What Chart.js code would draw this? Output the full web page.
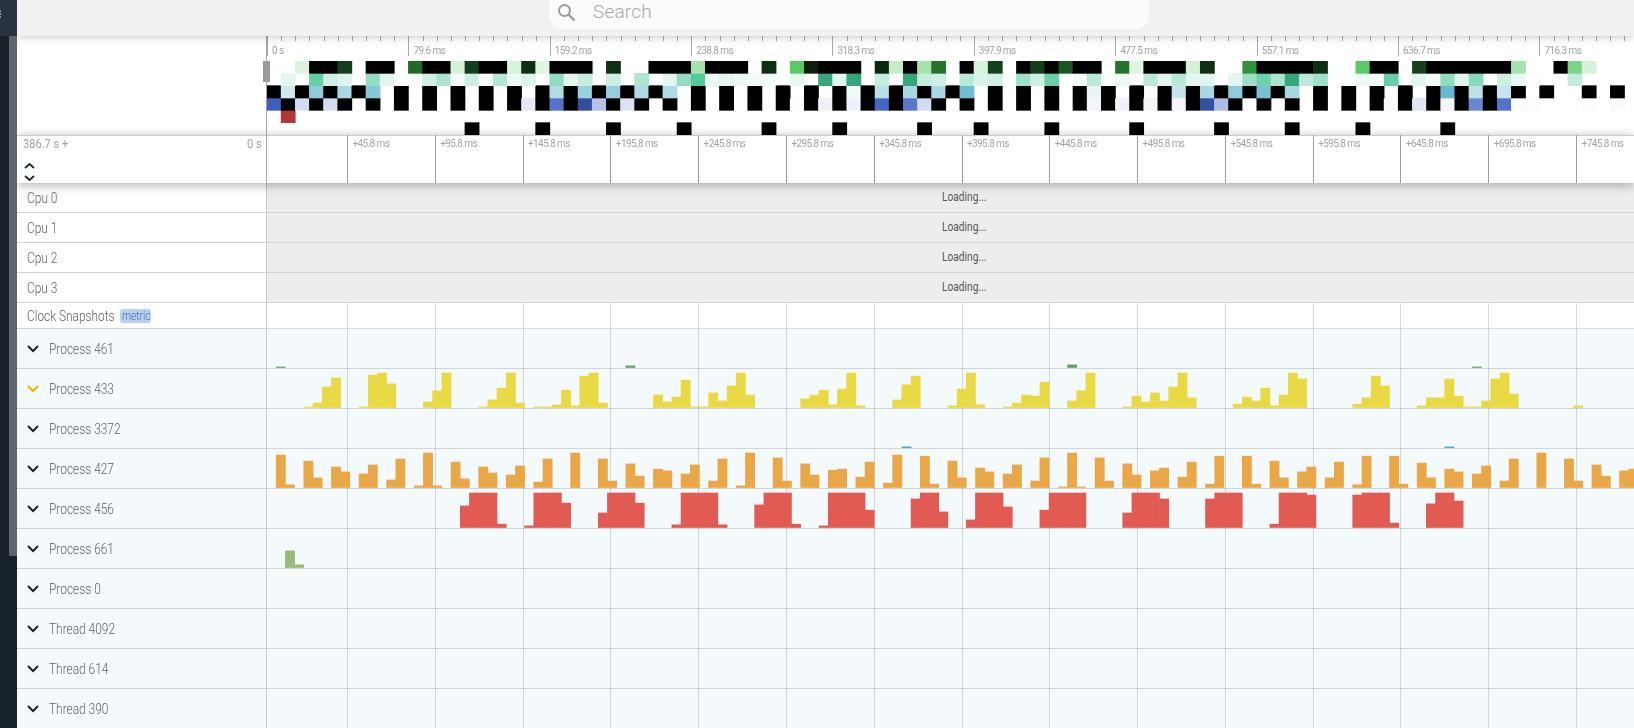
<!DOCTYPE html>
<html>
<head>
<meta charset="utf-8">
<title>Trace viewer</title>
<script src="https://cdn.jsdelivr.net/npm/chart.js@4"></script>
<style>
  html, body { margin: 0; padding: 0; width: 1634px; height: 728px; overflow: hidden; background: #fff; font-family: Roboto, sans-serif; }
  div, canvas, svg { position: absolute; }
  canvas { display: block; }
  #rows { left: 0; top: 0; width: 1634px; height: 728px; }
  .sidebar { left: 0; top: 0; width: 17px; height: 728px; background: #18222c; z-index: 20; }
  .sidebarTop { left: 0; top: 0; width: 17px; height: 36px; background: #28333f; }
  .dots { left: 0; top: 10px; width: 1px; height: 2px; background: #8b95a0; box-shadow: 0 3px 0 #8b95a0, 0 6px 0 #8b95a0; }
  .scrollThumb { left: 9px; top: 36px; width: 8px; height: 520px; background: #5f646b; }
  .topbar { left: 17px; top: 0; right: 0; height: 36px; background: #f1f1f1; box-shadow: 0 2px 8px rgba(0,0,0,.18); z-index: 15; }
  .searchBox { left: 532px; top: -10px; width: 600px; height: 39px; background: #fbfbfb; border-radius: 14px; }
  .searchText { left: 44px; top: 11px; font-size: 19px; font-weight: 300; color: #a9a9a9; line-height: 22px; letter-spacing: .2px; }
  .narrow { white-space: nowrap; transform: scaleX(.85); transform-origin: left center; }
  .notesPanel { left: 17px; top: 135px; right: 0; height: 48px; background: #fff; border-top: 1px solid #ccc; box-sizing: border-box; box-shadow: 0 2px 10px rgba(0,0,0,.32); z-index: 8; }
  .notesText { font-size: 13px; font-weight: 400; color: #a3a3a3; top: 1px; line-height: 14px; }
  .row { left: 17px; right: 0; }
  .rowLabel { left: 0; top: 0; width: 250px; height: 100%; box-sizing: border-box; border-bottom: 1px solid #cfd3d5; }
  .rowRight { left: 250px; top: 0; right: 0; height: 100%; box-sizing: border-box; }
  .name { font-size: 14px; font-weight: 300; color: #5c6268; line-height: 16px; }
  .loading { left: 675px; top: 7px; font-size: 12px; color: #555; line-height: 14px; }
  .chip { left: 103px; top: 6px; width: 31px; height: 14px; background: #b8d0f7; border-radius: 3px; font-size: 12px; font-weight: 300; color: #4f6f9f; line-height: 14px; text-align: left; }
  .chip span { position: absolute; left: 2px; top: 0; white-space: nowrap; transform: scaleX(.85); transform-origin: left center; }
</style>
</head>
<body>
<div class="sidebar">
  <div class="sidebarTop"><div class="dots"></div></div>
  <div class="scrollThumb"></div>
</div>
<div class="topbar">
  <div class="searchBox">
    <svg style="left:8px;top:13px" width="19" height="19" viewBox="0 0 19 19"><circle cx="7.5" cy="7.5" r="5.5" fill="none" stroke="#9c9c9c" stroke-width="2"/><line x1="11.5" y1="11.5" x2="17.5" y2="17.5" stroke="#9c9c9c" stroke-width="2.4"/></svg>
    <div class="searchText">Search</div>
  </div>
</div>

<canvas id="overview" style="left:267px;top:36px" width="1367" height="99"></canvas>
<div style="left:263px;top:61px;width:7px;height:21px;background:#999;z-index:5"></div>

<div class="notesPanel">
  <div class="notesText narrow" style="left:6px">386.7 s +</div>
  <div class="notesText narrow" style="left:230px">0 s</div>
  <svg style="left:7px;top:26px" width="11" height="20" viewBox="0 0 11 20"><polyline points="1,6 5.5,2 10,6" fill="none" stroke="#20262c" stroke-width="1.8"/><polyline points="1,14 5.5,18 10,14" fill="none" stroke="#20262c" stroke-width="1.8"/></svg>
</div>
<canvas id="ruler" style="left:267px;top:135px;z-index:9" width="1367" height="48"></canvas>

<div id="rows"></div>
<canvas id="tracks" style="left:267px;top:303px;z-index:3" width="1367" height="425"></canvas>
<div style="left:266px;top:36px;width:1px;height:147px;background:#a4a4a4;z-index:10"></div>
<div style="left:266px;top:183px;width:1px;height:545px;background:#c6cacc;z-index:4"></div>

<script>
// overview ruler
const overviewTickValues = [0, 79.6, 159.2, 238.8, 318.3, 397.9, 477.5, 557.1, 636.7, 716.3];
const overviewTickLabels = ['0 s', '79.6 ms', '159.2 ms', '238.8 ms', '318.3 ms', '397.9 ms', '477.5 ms', '557.1 ms', '636.7 ms', '716.3 ms'];
const overviewCellMs = 7.96;
const overviewSpanMs = 769.5;

// overview load per cell, 0 is empty and 100 is full
const overviewRow0 = [
  0,0,9,100,100,84,0,100,100,0,
  73,100,100,11,84,100,100,10,88,8,
  100,100,100,0,88,0,0,100,100,100,
  23,100,100,100,0,88,0,43,92,100,
  100,100,0,90,15,100,23,70,0,100,
  10,83,0,100,84,100,78,100,100,0,
  70,8,100,100,100,11,88,0,0,62,
  100,100,100,100,88,0,0,43,100,100,
  0,83,100,100,100,100,100,100,23,0,
  0,100,34,11,0,0,0];
const overviewRow1 = [
  0,7,0,40,12,9,0,28,8,1,
  0,12,22,3,13,2,20,5,9,0,
  28,7,15,0,13,0,21,0,7,28,
  44,5,7,5,3,4,0,6,0,57,
  8,57,0,15,0,57,15,12,0,18,
  10,12,0,25,13,39,0,3,18,1,
  4,0,18,8,19,7,8,0,7,26,
  38,22,57,17,25,0,1,4,3,40,
  0,7,3,29,8,31,0,13,6,1,
  0,0,16,0,0,0,0];
const overviewRow2 = [
  100,13,100,29,100,22,100,31,0,100,
  0,100,0,100,0,100,0,100,0,100,
  20,100,26,100,27,100,21,100,21,0,
  100,0,100,0,100,0,100,0,100,0,
  100,3,100,18,100,22,100,22,100,37,
  0,100,0,100,0,100,0,100,6,100,
  0,100,0,100,15,100,22,100,29,100,
  35,100,22,0,100,0,100,0,100,0,
  100,0,100,39,100,17,100,15,100,0,
  100,0,0,100,0,100,0];
const overviewRow3 = [
  51,100,11,100,11,100,0,100,0,100,
  0,100,0,100,0,100,0,100,7,100,
  44,100,59,19,100,9,100,0,100,0,
  100,0,100,0,100,0,100,1,100,4,
  100,4,100,48,100,43,11,100,0,100,
  0,100,0,100,0,100,0,100,3,100,
  4,100,3,100,3,100,58,21,100,1,
  100,0,100,0,100,0,100,0,100,1,
  100,8,100,3,100,38,100,44,1,1,
  0,0,0,1,0,2,0];
const overviewRow4 = [
  0,54,0,0,0,0,0,0,0,0];
const overviewRow5 = [
  0,0,0,0,0,0,0,0,0,0,
  0,0,0,0,100,0,0,0,0,100,
  0,0,0,0,100,0,0,0,0,100,
  0,0,0,0,0,100,0,0,0,0,
  100,0,0,0,0,0,100,0,0,0,
  100,0,0,0,0,100,0,0,0,0,
  0,100,0,0,0,0,0,100,0,0,
  0,0,100,0,0,0,0,100,0,0,
  0,0,0,100,0,0,0,0,0,0,
  0,0,0,0,0,0,0];
const overviewHues = [127, 158, 193, 224, 0, 0];

// timeline
const cpuNames = ['Cpu 0', 'Cpu 1', 'Cpu 2', 'Cpu 3'];
const trackNames = ['Process 461', 'Process 433', 'Process 3372', 'Process 427', 'Process 456', 'Process 661', 'Process 0', 'Thread 4092', 'Thread 614', 'Thread 390'];
const timeTickValues = [45.8, 95.8, 145.8, 195.8, 245.8, 295.8, 345.8, 395.8, 445.8, 495.8, 545.8, 595.8, 645.8, 695.8, 745.8];
const timeSpanMs = 778.5;
const bucketMs = 5.24;

// cpu usage per bucket, in percent of the track height
const process433 = [
  0,0,0,0,3,14,60,86,0,0,
  3,94,100,69,0,0,0,17,49,100,
  0,0,0,3,23,57,100,14,0,3,
  3,9,51,6,91,100,14,0,0,0,
  0,0,37,17,31,80,3,3,43,20,
  63,100,37,0,0,0,0,0,26,37,
  51,9,54,100,6,0,0,0,23,66,
  91,0,0,0,6,54,100,9,0,0,
  3,14,37,34,74,0,0,20,49,100,
  0,0,0,3,34,17,43,20,60,100,
  29,0,0,0,0,11,31,20,57,6,
  37,100,83,0,0,0,0,0,11,29,
  91,63,0,0,0,6,29,29,83,34,
  3,3,20,83,100,40,0,0,0,0,
  0,0,6,0,0,0,0,0,0];
const process427 = [
  0,94,9,0,77,29,0,60,46,0,
  40,66,0,23,83,0,6,100,6,0,
  74,26,0,60,43,0,37,63,0,17,
  83,0,0,100,0,0,83,20,0,69,
  34,0,54,49,0,40,66,0,20,83,
  0,6,100,0,0,86,20,0,69,37,
  0,51,54,0,31,74,0,14,94,0,
  0,91,11,0,77,29,0,57,46,0,
  40,66,0,20,86,0,3,100,3,0,
  86,20,0,69,37,0,49,57,0,31,
  74,0,11,91,0,0,91,11,0,77,
  29,0,46,60,0,29,74,0,9,91,
  0,0,91,11,0,71,29,0,54,46,
  0,40,63,0,20,83,0,0,100,0,
  0,83,20,0,66,34,0,49,54];
const process456 = [
  0,0,0,0,0,0,0,0,0,0,
  0,0,0,0,0,0,0,0,0,0,
  0,63,100,100,100,11,0,0,6,100,
  100,100,71,0,0,0,43,100,100,100,
  71,0,0,0,9,100,100,100,100,9,
  0,0,0,66,100,100,100,11,0,0,
  6,100,100,100,100,51,0,0,0,0,
  83,100,100,46,0,0,23,100,100,100,
  60,0,0,0,51,100,100,100,100,0,
  0,0,0,43,100,100,100,83,0,0,
  0,0,83,100,100,100,0,0,0,11,
  100,100,100,94,0,0,0,0,94,100,
  100,100,14,0,0,0,69,100,100,77];
// the quiet tracks only have a few busy buckets
const process461Buckets = [1, 39, 87, 131];
const process461Values = [3, 6, 9, 3];
const process3372Buckets = [69, 128];
const process3372Values = [3, 3];
const process661Buckets = [2, 3];
const process661Values = [49, 9];

// html rows next to the canvases
const rowsEl = document.getElementById('rows');
const chevron = (color) => '<svg style="left:10px;top:15px" width="12" height="10" viewBox="0 0 12 10"><polyline points="1,2 6,7 11,2" fill="none" stroke="' + color + '" stroke-width="2"/></svg>';
let rowTop = 183;
cpuNames.forEach((name) => {
  rowsEl.insertAdjacentHTML('beforeend',
    '<div class="row" style="top:' + rowTop + 'px;height:30px">' +
    '<div class="rowRight" style="background:#ededed;border-bottom:1px solid #d4d4d4"><div class="loading narrow">Loading...</div></div>' +
    '<div class="rowLabel" style="background:#fff"><div class="name narrow" style="left:10px;top:7px">' + name + '</div></div></div>');
  rowTop += 30;
});
rowsEl.insertAdjacentHTML('beforeend',
  '<div class="row" style="top:303px;height:26px;background:#fff">' +
  '<div class="rowLabel"><div class="name narrow" style="left:10px;top:5px">Clock Snapshots</div>' +
  '<div class="chip"><span>metric</span></div></div></div>');
rowTop = 329;
trackNames.forEach((name, i) => {
  rowsEl.insertAdjacentHTML('beforeend',
    '<div class="row" style="top:' + rowTop + 'px;height:40px;background:#f4fafc">' +
    '<div class="rowLabel">' + chevron(i === 1 ? '#f4b400' : '#1c2229') +
    '<div class="name narrow" style="left:32px;top:12px">' + name + '</div></div></div>');
  rowTop += 40;
});

const tickFont = { family: 'Roboto, sans-serif', size: 10 };

// roboto condensed is not around, so squeeze the canvas tick labels a bit
const tightLabels = {
  id: 'tightLabels',
  beforeDraw(chart) { chart.ctx.letterSpacing = '-0.6px'; },
};

// tick marks of the overview ruler
const rulerMarks = {
  id: 'rulerMarks',
  afterDraw(chart) {
    const scale = chart.scales.x;
    const ctx = chart.ctx;
    ctx.save();
    ctx.lineWidth = 1;
    overviewTickValues.forEach((value) => {
      ctx.strokeStyle = '#a8a8a8';
      let x = Math.round(scale.getPixelForValue(value)) + 0.5;
      ctx.beginPath(); ctx.moveTo(x, 0); ctx.lineTo(x, 20); ctx.stroke();
      for (let k = 1; k < 10; k++) {
        x = Math.round(scale.getPixelForValue(value + k * overviewCellMs)) + 0.5;
        ctx.beginPath(); ctx.moveTo(x, 0); ctx.lineTo(x, 5); ctx.stroke();
      }
    });
    ctx.restore();
  },
};

const overviewRows = [overviewRow0, overviewRow1, overviewRow2, overviewRow3, overviewRow4, overviewRow5];
const overviewDatasets = overviewRows.map((row, r) => {
  const cells = row.map((load, i) => ({ load, i })).filter((c) => c.load > 0);
  return {
    data: cells.map((c) => ({ x: (c.i + 0.5) * overviewCellMs, y: [r, r + 1] })),
    backgroundColor: cells.map((c) => 'hsl(' + overviewHues[r] + ',52%,' + (100 - c.load) + '%)'),
    barPercentage: 1,
    categoryPercentage: 1,
    grouped: false,
  };
});

new Chart(document.getElementById('overview'), {
  type: 'bar',
  data: { datasets: overviewDatasets },
  plugins: [rulerMarks, tightLabels],
  options: {
    responsive: false,
    animation: false,
    layout: { padding: 0 },
    plugins: { legend: { display: false }, tooltip: { enabled: false } },
    scales: {
      x: {
        type: 'linear',
        position: 'top',
        offset: false,
        min: 0,
        max: overviewSpanMs,
        afterBuildTicks: (scale) => { scale.ticks = overviewTickValues.map((value) => ({ value })); },
        afterFit: (scale) => {
          scale.height = 25;
          // the first label would push the chart area to the right otherwise
          scale.paddingLeft = 0;
          scale.paddingRight = 0;
        },
        grid: { display: false, drawTicks: false },
        border: { display: false },
        ticks: {
          autoSkip: false,
          maxRotation: 0,
          align: 'start',
          labelOffset: 5,
          padding: 4,
          color: '#a3a3a3',
          font: tickFont,
          callback: (value) => overviewTickLabels[overviewTickValues.indexOf(value)],
        },
      },
      y: { type: 'linear', reverse: true, min: 0, max: 6, display: false },
    },
  },
});

new Chart(document.getElementById('ruler'), {
  type: 'bar',
  data: { datasets: [{ data: [] }] },
  plugins: [tightLabels],
  options: {
    responsive: false,
    animation: false,
    layout: { padding: 0 },
    plugins: { legend: { display: false }, tooltip: { enabled: false } },
    scales: {
      x: {
        type: 'linear',
        position: 'top',
        offset: false,
        min: 0,
        max: timeSpanMs,
        afterBuildTicks: (scale) => { scale.ticks = timeTickValues.map((value) => ({ value })); },
        afterFit: (scale) => {
          scale.height = 16;
          scale.paddingLeft = 0;
          scale.paddingRight = 0;
        },
        grid: { color: '#9c9c9c', offset: false, tickLength: 16, tickColor: '#9c9c9c' },
        border: { display: false },
        ticks: {
          autoSkip: false,
          maxRotation: 0,
          align: 'start',
          labelOffset: 5,
          padding: -15,
          color: '#a3a3a3',
          font: tickFont,
          callback: (value) => '+' + value.toFixed(1) + ' ms',
        },
      },
      y: { display: false },
    },
  },
});

const denseSeries = (values) => values
  .map((y, bucket) => ({ x: (bucket + 0.5) * bucketMs, y }))
  .filter((p) => p.y > 0);
const sparseSeries = (buckets, values) => buckets
  .map((bucket, i) => ({ x: (bucket + 0.5) * bucketMs, y: values[i] }));

const trackSeries = [
  { axis: 'track0', color: '#6f9a70', data: sparseSeries(process461Buckets, process461Values) },
  { axis: 'track1', color: '#e9da45', data: denseSeries(process433) },
  { axis: 'track2', color: '#2399c9', data: sparseSeries(process3372Buckets, process3372Values) },
  { axis: 'track3', color: '#eaa747', data: denseSeries(process427) },
  { axis: 'track4', color: '#e15b53', data: denseSeries(process456) },
  { axis: 'track5', color: '#9ab978', data: sparseSeries(process661Buckets, process661Values) },
];

// one y axis per row, stacked on top of each other (higher weight goes on top)
const rowAxis = (order, height) => ({
  type: 'linear',
  position: 'left',
  stack: 'rows',
  stackWeight: height,
  weight: 20 - order,
  min: 0,
  max: 114.3,
  afterBuildTicks: (scale) => { scale.ticks = [{ value: 0 }]; },
  grid: { color: 'rgba(40,50,55,0.18)', drawTicks: false, z: 1 },
  border: { display: false },
  ticks: { display: false },
});

const trackScales = {
  x: {
    type: 'linear',
    offset: false,
    min: 0,
    max: timeSpanMs,
    afterBuildTicks: (scale) => { scale.ticks = timeTickValues.map((value) => ({ value })); },
    grid: { color: 'rgba(40,50,55,0.18)', offset: false, drawTicks: false },
    border: { display: false },
    ticks: { display: false },
  },
  clock: rowAxis(0, 25),
};
trackNames.forEach((name, i) => { trackScales['track' + i] = rowAxis(i + 1, 40); });

new Chart(document.getElementById('tracks'), {
  type: 'bar',
  data: {
    datasets: trackSeries.map((s) => ({
      data: s.data,
      yAxisID: s.axis,
      backgroundColor: s.color,
      barPercentage: 1,
      categoryPercentage: 1,
      grouped: false,
    })),
  },
  options: {
    responsive: false,
    animation: false,
    layout: { padding: 0 },
    plugins: { legend: { display: false }, tooltip: { enabled: false } },
    scales: trackScales,
  },
});
</script>
</body>
</html>
